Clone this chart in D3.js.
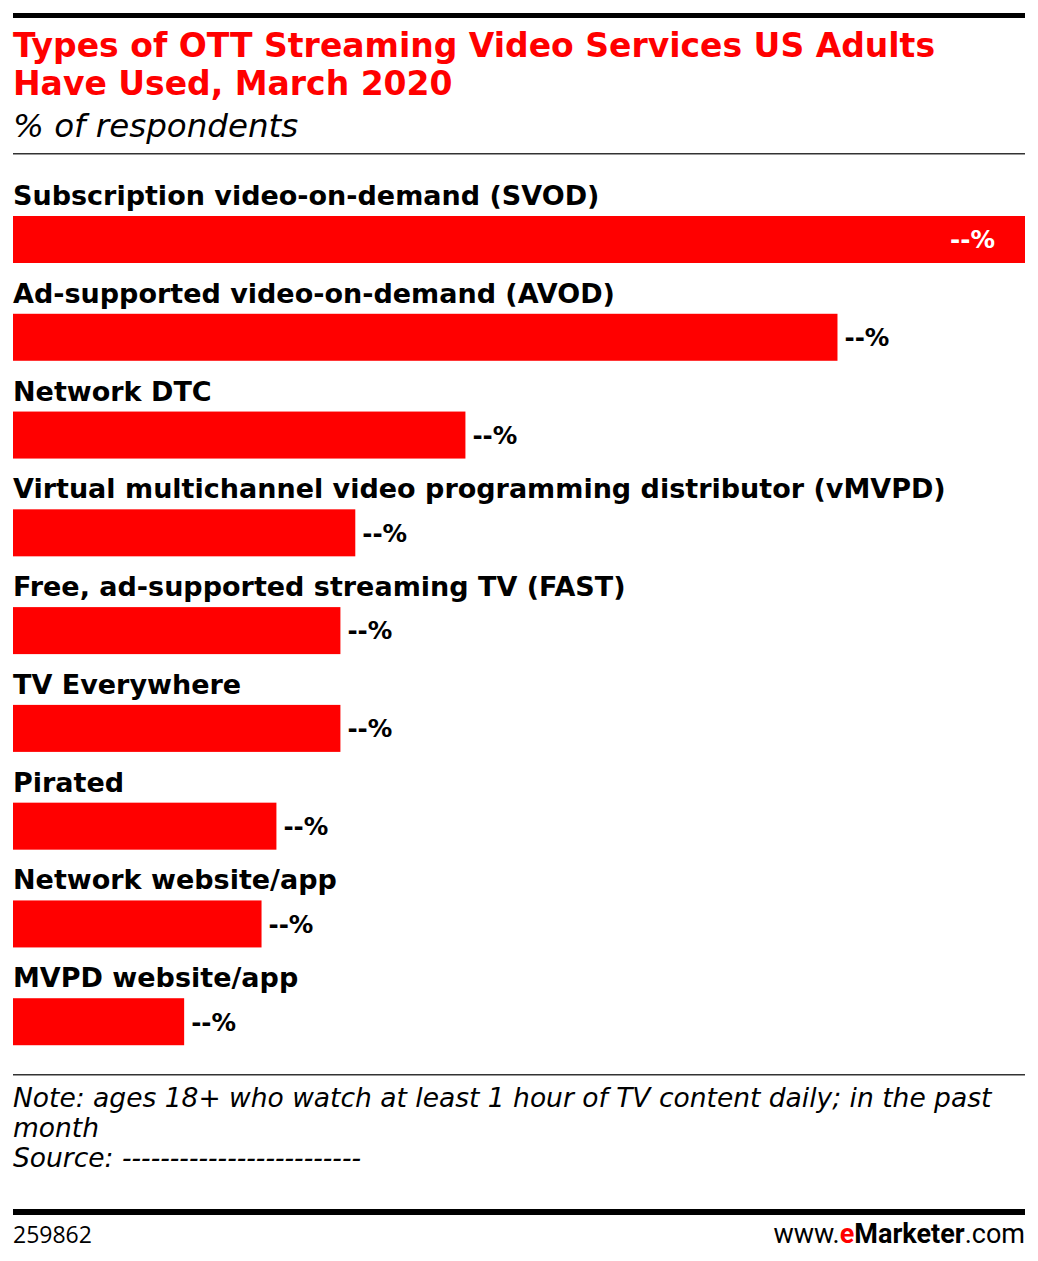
<!DOCTYPE html>
<html><head><meta charset="utf-8">
<script src="https://cdn.jsdelivr.net/npm/d3@7"></script>
<style>body{margin:0;background:#fff}</style>
</head><body>
<script>
const categories = ["Subscription video-on-demand (SVOD)","Ad-supported video-on-demand (AVOD)","Network DTC","Virtual multichannel video programming distributor (vMVPD)","Free, ad-supported streaming TV (FAST)","TV Everywhere","Pirated","Network website/app","MVPD website/app"];
const values = [68, 55.4, 30.4, 23.0, 22.0, 22.0, 17.7, 16.7, 11.5];
const valueLabels = ["--%","--%","--%","--%","--%","--%","--%","--%","--%"];

const W=1038,H=1261;
const svg=d3.select("body").append("svg").attr("width",W).attr("height",H);
const red="#ff0000";
const L=13,R=1025;
svg.append("rect").attr("x",L).attr("y",13).attr("width",R-L).attr("height",5).attr("fill","#000");
const tf="'DejaVu Sans', sans-serif";
svg.append("text").attr("x",L).attr("y",57).attr("fill",red).attr("font-family",tf).attr("font-weight",700).attr("font-size",33).text("Types of OTT Streaming Video Services US Adults");
svg.append("text").attr("x",L).attr("y",95).attr("fill",red).attr("font-family",tf).attr("font-weight",700).attr("font-size",33).text("Have Used, March 2020");
svg.append("text").attr("x",L).attr("y",137).attr("fill","#000").attr("font-family",tf).attr("font-style","italic").attr("font-size",32.5).text("% of respondents");
svg.append("rect").attr("x",L).attr("y",153).attr("width",R-L).attr("height",1.5).attr("fill","#333");

const x=d3.scaleLinear().domain([0,d3.max(values)]).range([L,R]);
const y=d3.scaleBand().domain(categories).range([167,1047]).paddingInner(0);
const g=svg.append("g");
categories.forEach((c,i)=>{
  const y0=y(c);
  g.append("text").attr("x",L).attr("y",y0+38).attr("font-family",tf).attr("font-weight",700).attr("font-size",27).attr("fill","#000").text(c);
  g.append("rect").attr("x",x(0)).attr("y",y0+49).attr("width",x(values[i])-x(0)).attr("height",47).attr("fill",red);
  const inside = i===0;
  g.append("text").attr("x",inside? x(values[i])-30 : x(values[i])+7).attr("y",y0+49+23.5).attr("dy","0.36em")
    .attr("text-anchor",inside?"end":"start").attr("font-family",tf).attr("font-weight",700).attr("font-size",24.5)
    .attr("fill",inside?"#fff":"#000").text(valueLabels[i]);
});

svg.append("rect").attr("x",L).attr("y",1074).attr("width",R-L).attr("height",1.5).attr("fill","#333");
const nf="'DejaVu Sans', sans-serif";
["Note: ages 18+ who watch at least 1 hour of TV content daily; in the past","month","Source: -------------------------"].forEach((t,i)=>{
  svg.append("text").attr("x",L).attr("y",1107+i*30).attr("font-family",nf).attr("font-style","italic").attr("font-size",26.5).attr("fill","#000").text(t);
});
svg.append("rect").attr("x",L).attr("y",1209).attr("width",R-L).attr("height",6).attr("fill","#000");
svg.append("text").attr("x",L).attr("y",1243).attr("font-family","'Open Sans', sans-serif").attr("font-size",23).attr("fill","#000").text("259862");
const ft=svg.append("text").attr("x",R).attr("y",1243).attr("text-anchor","end").attr("font-family","Roboto, 'Liberation Sans', sans-serif").attr("font-size",27).attr("fill","#000");
ft.append("tspan").text("www.");
ft.append("tspan").attr("fill",red).attr("font-weight",700).text("e");
ft.append("tspan").attr("font-weight",700).text("Marketer");
ft.append("tspan").text(".com");
</script>
</body></html>
